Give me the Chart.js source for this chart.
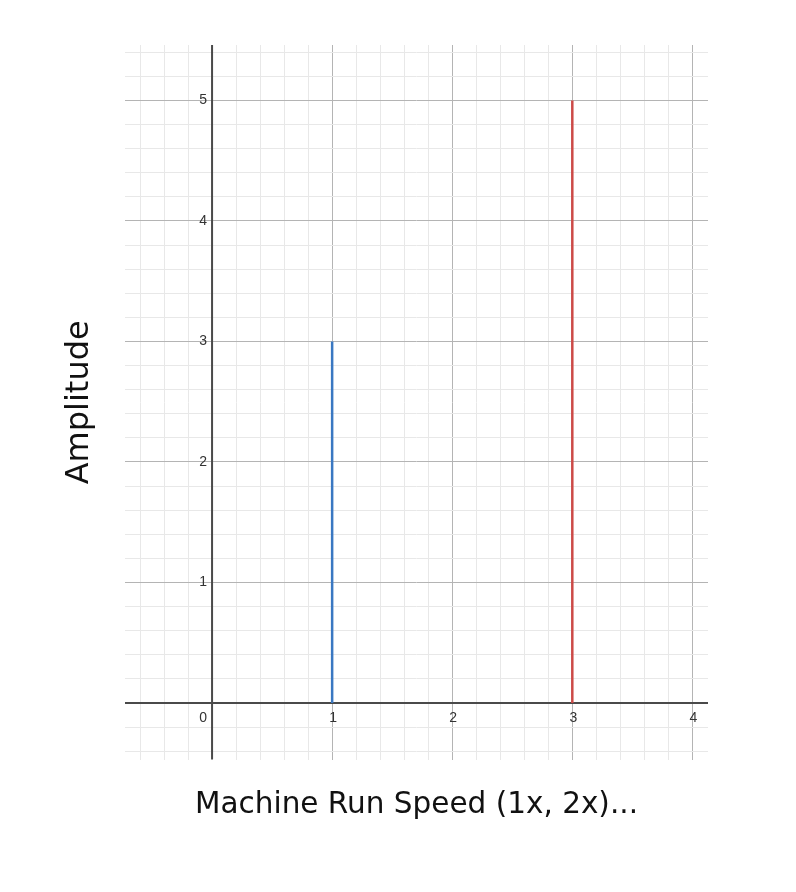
<!DOCTYPE html>
<html>
<head>
<meta charset="utf-8">
<script src="https://cdn.jsdelivr.net/npm/chart.js@4.4.1/dist/chart.umd.min.js"></script>
<style>
  html, body { margin: 0; padding: 0; background: #fff; }
  #wrap { width: 796px; height: 892px; position: relative; }
</style>
</head>
<body>
<div id="wrap"><canvas id="speedChart"></canvas></div>
<script>
// run speeds (x) and the amplitude reached at each speed
const speeds = [1, 3];
const amplitudes = [3, 5];
const xTickLabels = [0, 1, 2, 3, 4];
const yTickLabels = [0, 1, 2, 3, 4, 5];

const isMajor = (v) => Math.abs(v - Math.round(v)) < 1e-6;

// grid: minor lines every 0.2, darker lines on whole numbers
const gridColor = (ctx) => {
  const v = ctx.tick ? ctx.tick.value : null;
  if (v === null || Math.abs(v) < 1e-6) return "transparent";
  return isMajor(v) ? "#b4b4b4" : "#e8e8e8";
};

const fifthTicks = (from, to) => {
  const out = [];
  for (let k = from; k <= to; k++) out.push({ value: k / 5 });
  return out;
};

// axes lines + numbers next to them, desmos style
const axisNumbers = {
  id: "axisNumbers",
  beforeDatasetsDraw(chart) {
    const { ctx, chartArea: a, scales: { x, y } } = chart;
    const x0 = x.getPixelForValue(0);
    const y0 = y.getPixelForValue(0);
    ctx.save();
    ctx.strokeStyle = "#4a4a4a";
    ctx.lineWidth = 2;
    ctx.beginPath();
    ctx.moveTo(a.left, y0);
    ctx.lineTo(a.right, y0);
    ctx.moveTo(x0, a.top);
    ctx.lineTo(x0, a.bottom);
    ctx.stroke();
    ctx.restore();
  },
  afterDatasetsDraw(chart) {
    const { ctx, scales: { x, y } } = chart;
    const x0 = x.getPixelForValue(0);
    const y0 = y.getPixelForValue(0);
    ctx.save();
    ctx.font = "14px 'Liberation Sans', Arial, sans-serif";
    ctx.fillStyle = "#333";
    ctx.textAlign = "center";
    ctx.textBaseline = "middle";
    xTickLabels.forEach((v) => {
      if (v === 0) return;
      ctx.fillText(String(v), x.getPixelForValue(v) + 1, y0 + 15);
    });
    ctx.textAlign = "right";
    yTickLabels.forEach((v) => {
      const py = v === 0 ? y0 + 15 : y.getPixelForValue(v);
      ctx.fillText(String(v), x0 - 5, py);
    });
    ctx.restore();
  },
};

const lineColors = ["#3a78c2", "#cc4a47"];

const datasets = speeds.map((s, i) => ({
  label: s + "x",
  data: [{ x: s, y: 0 }, { x: s, y: amplitudes[i] }],
  showLine: true,
  borderColor: lineColors[i],
  borderWidth: 2.5,
  pointRadius: 0,
  fill: false,
}));

new Chart(document.getElementById("speedChart"), {
  type: "scatter",
  data: { datasets },
  options: {
    responsive: true,
    maintainAspectRatio: false,
    animation: false,
    layout: { padding: { left: 60, right: 88, top: 45, bottom: 69 } },
    plugins: { legend: { display: false }, tooltip: { enabled: false } },
    scales: {
      x: {
        type: "linear",
        min: -0.725,
        max: 4.13,
        afterBuildTicks: (axis) => { axis.ticks = fifthTicks(-3, 20); },
        ticks: { display: false },
        grid: { color: gridColor, lineWidth: 1, drawTicks: false },
        border: { display: false },
        title: {
          display: true,
          text: "Machine Run Speed (1x, 2x)...",
          font: { family: "'DejaVu Sans', sans-serif", size: 29.5 },
          color: "#111",
          padding: { top: 28, bottom: 0 },
        },
      },
      y: {
        type: "linear",
        min: -0.47,
        max: 5.46,
        afterBuildTicks: (axis) => { axis.ticks = fifthTicks(-2, 27); },
        ticks: { display: false },
        grid: { color: gridColor, lineWidth: 1, drawTicks: false },
        border: { display: false },
        title: {
          display: true,
          text: "Amplitude",
          font: { family: "'DejaVu Sans', sans-serif", size: 32 },
          color: "#111",
          padding: { top: 0, bottom: 26.6 },
        },
      },
    },
  },
  plugins: [axisNumbers],
});
</script>
</body>
</html>
